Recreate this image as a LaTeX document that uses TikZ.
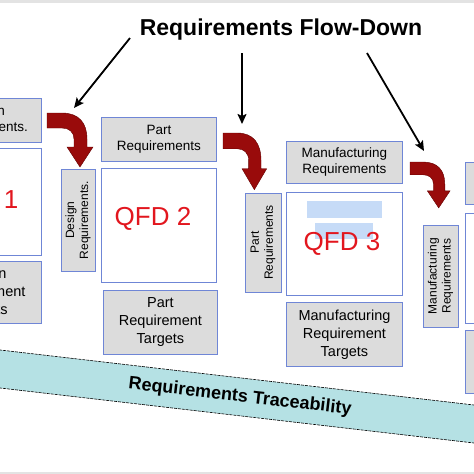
\documentclass[tikz,border=0pt]{standalone}
\usepackage{fontspec}
\setmainfont{Liberation Sans}
\usetikzlibrary{arrows.meta}
\definecolor{boxblue}{HTML}{6F86D6}
\definecolor{boxgrey}{HTML}{DCDCDC}
\definecolor{qfdred}{HTML}{E2161E}
\definecolor{flowred}{HTML}{990B0B}
\definecolor{flowdark}{HTML}{640000}
\definecolor{bandcyan}{HTML}{B5E1E4}
\definecolor{shadeblue}{HTML}{C6DBF7}
\definecolor{stripgrey}{HTML}{E3E3E3}
\begin{document}
\begin{tikzpicture}[x=1pt,y=-1pt,>={Stealth[length=10pt,width=9pt,inset=2pt]},
	gbox/.style={draw=boxblue,fill=boxgrey,line width=0.9pt,align=center,inner sep=0pt,anchor=north west,font=\fontsize{13.5}{16}\selectfont},
	tbox/.style={gbox,font=\fontsize{14.5}{18}\selectfont},
	vbox/.style={gbox,anchor=center,rotate=90,font=\fontsize{12}{14}\selectfont},
	qbox/.style={draw=boxblue,fill=white,line width=0.9pt,inner sep=0pt,anchor=north west},
	qlabel/.style={text=qfdred,font=\fontsize{26}{26}\selectfont},
	flowarrow/.style={fill=flowred,draw=flowdark,line width=0.4pt}]
		\useasboundingbox (0,0) rectangle (474,474);
		\clip (0,0) rectangle (474,474);
		\fill[stripgrey] (0,0) rectangle (474,3);
		\fill[stripgrey] (0,472) rectangle (474,474);
		% traceability band
		\fill[bandcyan] (-5,349.4) -- (480,405.7) -- (480,443.7) -- (-5,387.4) -- cycle;
		\draw[dash pattern=on 3pt off 1pt,line width=0.6pt] (-5,349.4) -- (480,405.7);
		\draw[dash pattern=on 3pt off 1pt,line width=0.6pt] (-5,387.4) -- (480,443.7);
		\node[rotate=-6.6,font=\bfseries\fontsize{18}{18}\selectfont] (trace) at (240,397) {Requirements Traceability};
		% QFD 1
		\node[gbox,minimum width=115pt,minimum height=44pt] (dreq1) at (-74,98) {Design\\Requirements.};
		\node[qbox,minimum width=115pt,minimum height=107pt] (qfd1) at (-74,148) {};
		\node[qlabel] (qfd1txt) at (-20,202) {QFD 1};
		\node[tbox,minimum width=115pt,minimum height=62pt] (dtgt1) at (-74,261) {Design\\Requirement\\Targets};
		% QFD 2
		\node[vbox,minimum width=102pt,minimum height=34pt] (dreq2) at (78,220) {Design\\Requirements.};
		\node[gbox,minimum width=115pt,minimum height=44pt] (preq2) at (101,117) {Part\\Requirements};
		\node[qbox,minimum width=115pt,minimum height=114pt] (qfd2) at (101,168) {};
		\node[qlabel] (qfd2txt) at (153,219) {QFD 2};
		\node[tbox,minimum width=114pt,minimum height=64pt] (ptgt2) at (103,290) {Part\\Requirement\\Targets};
		% QFD 3
		\node[vbox,minimum width=99pt,minimum height=36pt] (preq3) at (263,242.5) {Part\\Requirements};
		\node[gbox,minimum width=116pt,minimum height=42pt] (mreq3) at (286,141) {Manufacturing\\Requirements};
		\node[qbox,minimum width=116pt,minimum height=103pt] (qfd3) at (286,192) {};
		\fill[shadeblue] (307,201) rectangle (382,218);
		\fill[shadeblue] (315,223) rectangle (373,239);
		\node[qlabel] (qfd3txt) at (342,244) {QFD 3};
		\node[tbox,minimum width=116pt,minimum height=64pt] (mtgt3) at (286,302) {Manufacturing\\Requirement\\Targets};
		% QFD 4
		\node[vbox,minimum width=102pt,minimum height=35pt] (mreq4) at (440.5,276) {Manufacturing\\Requirements};
		\node[gbox,minimum width=115pt,minimum height=42pt] (top4) at (465,162) {};
		\node[qbox,minimum width=115pt,minimum height=110pt] (qfd4) at (465,213) {};
		\node[gbox,minimum width=115pt,minimum height=63pt] (tgt4) at (465,330) {};
		% flow-down arrows
		\foreach \x/\y/\sx/\sy in {47/113/1/1,223/133/0.95/1.05,410/162/0.87/0.85}
			\draw[flowarrow,shift={(\x,\y)},xscale=\sx,yscale=\sy] (0,0) -- (15,0) .. controls (32,0) and (40,10) .. (40,26) -- (40,34) -- (46,34) -- (33,54) -- (20,34) -- (27,34) -- (27,26) .. controls (27,19) and (22,15) .. (15,15) -- (0,15) -- cycle;
		\node[font=\bfseries\fontsize{23}{23}\selectfont] (title) at (281,30) {Requirements Flow-Down};
		\coordinate (f1s) at (130,38);
		\coordinate (f1e) at (74,108);
		\coordinate (f2s) at (242,53);
		\coordinate (f2e) at (242,124);
		\coordinate (f3s) at (367,53);
		\coordinate (f3e) at (424,151);
		\draw[->,line width=1.8pt] (f1s) -- (f1e);
		\draw[->,line width=1.8pt] (f2s) -- (f2e);
		\draw[->,line width=1.8pt] (f3s) -- (f3e);
\end{tikzpicture}
\end{document}
